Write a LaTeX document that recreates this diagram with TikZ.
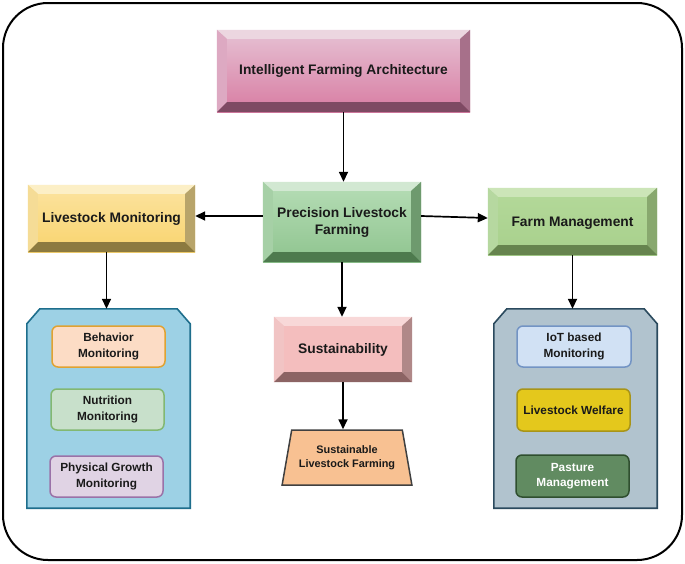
\documentclass[tikz,border=0pt]{standalone}
\usepackage{fontspec}
\setmainfont{Liberation Sans}
\usetikzlibrary{arrows.meta,calc,shapes.geometric}
\definecolor{txt}{HTML}{1A1A1A}
% intelligent farming
\definecolor{ifaT}{HTML}{E6C2D4}\definecolor{ifaB}{HTML}{D87CA2}
\definecolor{ifa1}{HTML}{ECD6E0}\definecolor{ifa2}{HTML}{DDA9C2}\definecolor{ifa3}{HTML}{A7708A}\definecolor{ifa4}{HTML}{7E4A63}
% precision
\definecolor{plfT}{HTML}{B6DDB6}\definecolor{plfB}{HTML}{8FC48F}
\definecolor{plf1}{HTML}{D2E8D2}\definecolor{plf2}{HTML}{A6D0A6}\definecolor{plf3}{HTML}{6E9A6E}\definecolor{plf4}{HTML}{4E7A4E}
% livestock monitoring
\definecolor{lmT}{HTML}{FBE3A0}\definecolor{lmB}{HTML}{F9D46E}
\definecolor{lm1}{HTML}{FCEFC6}\definecolor{lm2}{HTML}{F5DC96}\definecolor{lm3}{HTML}{B8A46A}\definecolor{lm4}{HTML}{8C7A40}
% farm management
\definecolor{fmT}{HTML}{B4D99A}\definecolor{fmB}{HTML}{A8D08C}
\definecolor{fm1}{HTML}{CCE5B8}\definecolor{fm2}{HTML}{B6D8A0}\definecolor{fm3}{HTML}{88A86E}\definecolor{fm4}{HTML}{66844E}
% sustainability
\definecolor{susF}{HTML}{F4BEBE}
\definecolor{sus1}{HTML}{F8D8D8}\definecolor{sus2}{HTML}{F1C4C4}\definecolor{sus3}{HTML}{B08888}\definecolor{sus4}{HTML}{8C6464}
% containers and sub boxes
\definecolor{lmcF}{HTML}{9DD1E5}\definecolor{lmcD}{HTML}{1E6E8C}
\definecolor{fmcF}{HTML}{B1C3CE}\definecolor{fmcD}{HTML}{2B4A5E}
\definecolor{behF}{HTML}{FCDCC5}\definecolor{behD}{HTML}{E0A232}
\definecolor{nutF}{HTML}{C8E0CB}\definecolor{nutD}{HTML}{82B872}
\definecolor{phyF}{HTML}{E0D3E4}\definecolor{phyD}{HTML}{9A72A8}
\definecolor{iotF}{HTML}{D1E1F4}\definecolor{iotD}{HTML}{7394C4}
\definecolor{welF}{HTML}{E4C81C}\definecolor{welD}{HTML}{A89418}
\definecolor{pasF}{HTML}{618B61}\definecolor{pasD}{HTML}{2F4F2F}
\definecolor{slfF}{HTML}{F8C192}\definecolor{slfD}{HTML}{404040}
\newcommand\bevfaces[5]{%
  \fill[#2] (#1.north west) -- (#1.north east) -- ($(#1.north east)+(-10,9)$) -- ($(#1.north west)+(10,9)$) -- cycle;
  \fill[#3] (#1.north west) -- ($(#1.north west)+(10,9)$) -- ($(#1.south west)+(10,-10)$) -- (#1.south west) -- cycle;
  \fill[#4] (#1.north east) -- ($(#1.north east)+(-10,9)$) -- ($(#1.south east)+(-10,-10)$) -- (#1.south east) -- cycle;
  \fill[#5] (#1.south west) -- ($(#1.south west)+(10,-10)$) -- ($(#1.south east)+(-10,-10)$) -- (#1.south east) -- cycle;
}
\begin{document}
\begin{tikzpicture}[x=1pt,y=-1pt,
  bevbox/.style={rectangle, inner sep=0pt, align=center, font=\bfseries\fontsize{13.8}{17}\selectfont, text=txt},
  subbox/.style={rectangle, rounded corners=6pt, line width=1.5pt, inner sep=0pt, minimum width=113, minimum height=41, align=center, font=\bfseries\fontsize{11.8}{15.5}\selectfont, text=txt},
  arr/.style={-{Triangle[length=10pt,width=9pt]}, line width=1.7pt, black},
  cont/.style={rectangle, inner sep=0pt, minimum width=163, minimum height=199}]
\useasboundingbox (0,0) rectangle (685,563);
\draw[line width=2pt, rounded corners=45pt, fill=white] (3,3) rectangle (682,560);

% beveled boxes
\node[bevbox, minimum width=253, minimum height=82, top color=ifaT, bottom color=ifaB] (ifa) at (343.5,71) {};
\bevfaces{ifa}{ifa1}{ifa2}{ifa3}{ifa4}
\node[bevbox] at (ifa) {Intelligent Farming Architecture};

\node[bevbox, minimum width=158, minimum height=80, top color=plfT, bottom color=plfB] (plf) at (342,222) {};
\bevfaces{plf}{plf1}{plf2}{plf3}{plf4}
\node[bevbox] at (plf) {Precision Livestock\\Farming};

\node[bevbox, minimum width=167, minimum height=67, top color=lmT, bottom color=lmB] (lm) at (111.5,218.5) {};
\bevfaces{lm}{lm1}{lm2}{lm3}{lm4}
\node[bevbox] at (lm) {Livestock Monitoring};

\node[bevbox, minimum width=169, minimum height=67, top color=fmT, bottom color=fmB] (fm) at (572.5,221.5) {};
\bevfaces{fm}{fm1}{fm2}{fm3}{fm4}
\node[bevbox] at ([yshift=-1.5pt]fm.center) {Farm Management};

\node[bevbox, minimum width=138, minimum height=65, fill=susF] (sus) at (343,349.5) {};
\bevfaces{sus}{sus1}{sus2}{sus3}{sus4}
\node[bevbox] at (sus) {Sustainability};

% containers
\node[cont] (lmc) at (108.5,408.5) {};
\draw[fill=lmcF, draw=lmcD, line width=1.6pt]
  ($(lmc.north west)+(0,15)$) -- ($(lmc.north west)+(13,0)$) -- ($(lmc.north east)+(-13,0)$) -- ($(lmc.north east)+(0,15)$) -- (lmc.south east) -- (lmc.south west) -- cycle;
\node[cont] (fmc) at (575.5,408.5) {};
\draw[fill=fmcF, draw=fmcD, line width=1.6pt]
  ($(fmc.north west)+(0,15)$) -- ($(fmc.north west)+(13,0)$) -- ($(fmc.north east)+(-13,0)$) -- ($(fmc.north east)+(0,15)$) -- (fmc.south east) -- (fmc.south west) -- cycle;

\node[subbox, fill=behF, draw=behD] (beh) at (108.5,346.5) {Behavior\\Monitoring};
\node[subbox, fill=nutF, draw=nutD] (nut) at (107.5,409.5) {Nutrition\\Monitoring};
\node[subbox, fill=phyF, draw=phyD] (phy) at (106.5,476.5) {Physical Growth\\Monitoring};

\node[subbox, minimum width=114, fill=iotF, draw=iotD] (iot) at (574,346.5) {IoT based\\Monitoring};
\node[subbox, minimum height=42, fill=welF, draw=welD] (wel) at (573.5,410) {Livestock Welfare};
\node[subbox, minimum height=42, fill=pasF, draw=pasD, text=white] (pas) at (572.5,476) {Pasture\\Management};

% trapezoid
\node[trapezium, trapezium stretches=true, trapezium left angle=71, trapezium right angle=71,
  minimum width=130, minimum height=55, inner sep=0pt, fill=slfF, draw=slfD, line width=1.5pt,
  align=center, font=\bfseries\fontsize{10.9}{14}\selectfont, text=txt] (slf) at (347,457.5) {Sustainable\\Livestock Farming};

% arrows
\draw[arr] (ifa.south) -- (ifa.south |- plf.north);
\draw[arr] ([yshift=6pt]plf.west) -- ([yshift=2.5pt]lm.east);
\draw[arr] ([yshift=6pt]plf.east) -- ([yshift=3.5pt]fm.west);
\draw[arr] ([xshift=-5pt]lm.south) -- ([xshift=-5pt]lm.south |- lmc.north);
\draw[arr] (fm.south) -- (fm.south |- fmc.north);
\draw[arr] (plf.south) -- (plf.south |- sus.north);
\draw[arr] (sus.south) -- (sus.south |- slf.north);
\end{tikzpicture}
\end{document}
